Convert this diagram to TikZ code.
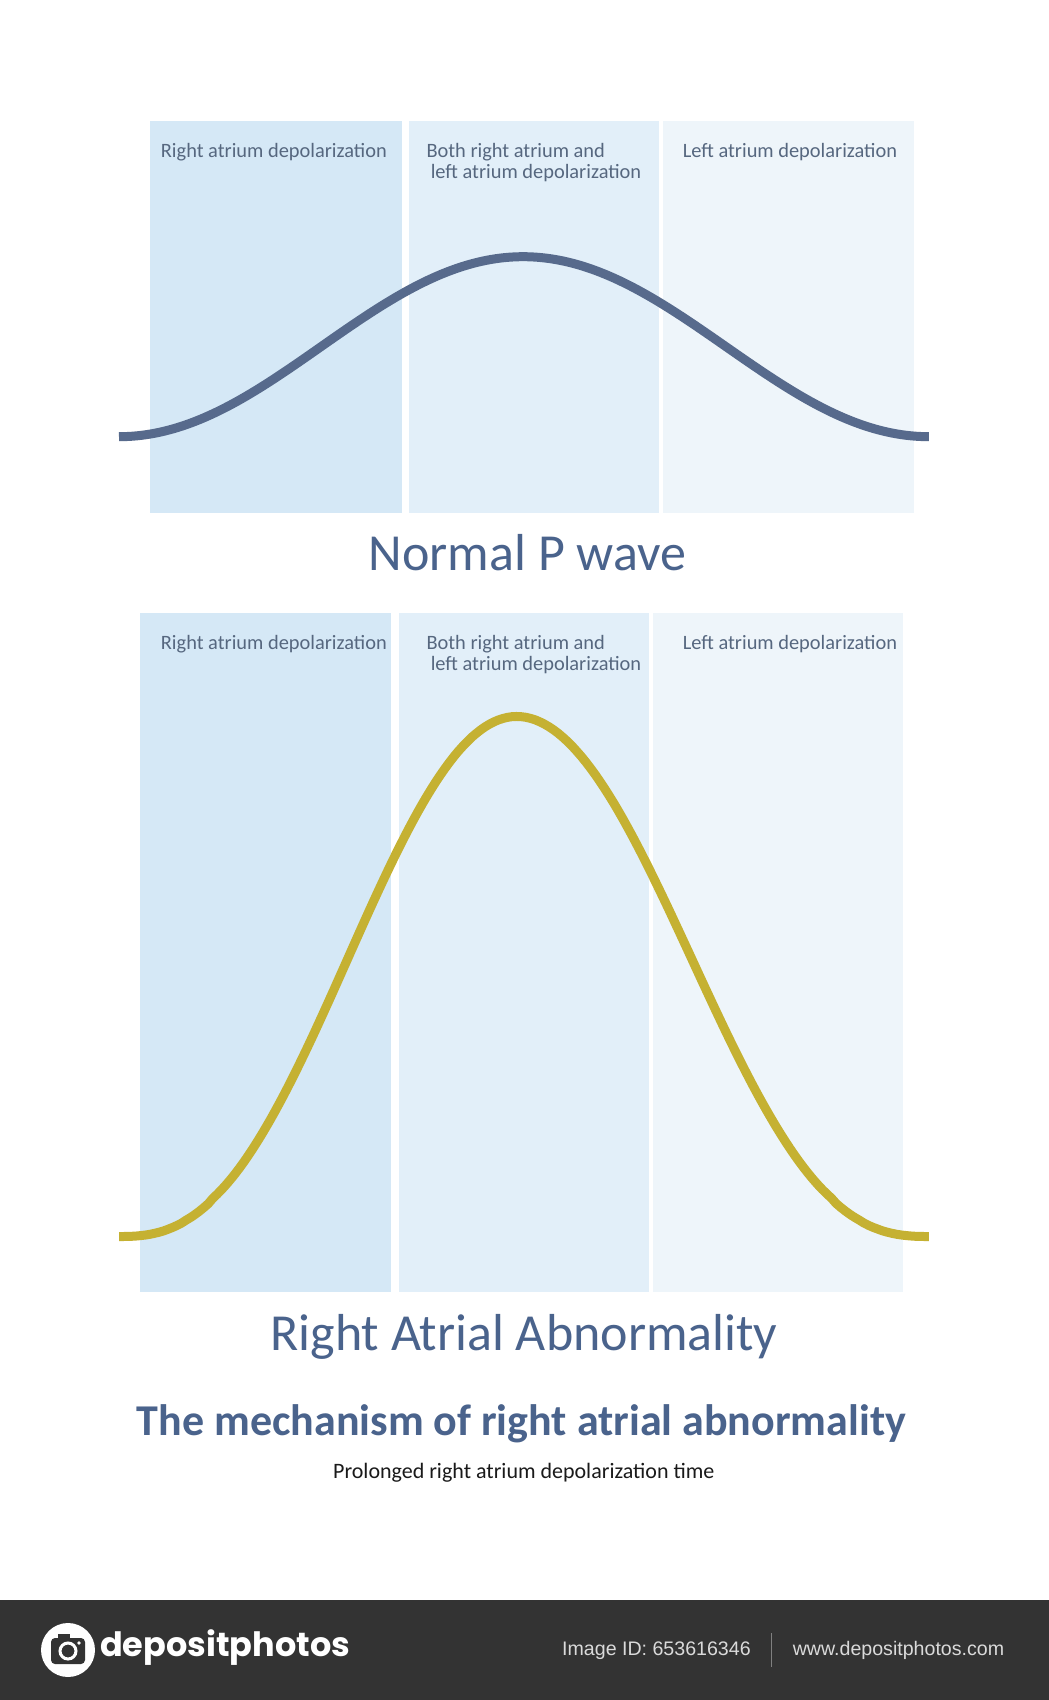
\documentclass[tikz,border=0pt]{standalone}
\usepackage{fontspec}
\setmainfont{Carlito}
\newfontfamily\barfont{Liberation Sans}
\newfontfamily\logofont{Poppins}
\definecolor{rafill}{HTML}{D5E8F6}
\definecolor{bothfill}{HTML}{E2EFF9}
\definecolor{lafill}{HTML}{EEF5FA}
\definecolor{labelgray}{HTML}{56677F}
\definecolor{titleblue}{HTML}{4A638C}
\definecolor{pwave}{HTML}{576A8C}
\definecolor{rawave}{HTML}{C5B132}
\definecolor{notetext}{HTML}{1A1A1A}
\definecolor{barfill}{HTML}{333333}
\definecolor{bartext}{HTML}{DADADA}

\begin{document}
\begin{tikzpicture}[x=1pt,y=-1pt,
  paneltext/.style={anchor=base west, inner sep=0, text=labelgray, font=\fontsize{20.4}{22}\selectfont},
  titletext/.style={anchor=base, inner sep=0, text=titleblue, font=\fontsize{52}{60}\selectfont},
  idtext/.style={anchor=base west, inner sep=0, text=bartext, font=\barfont\fontsize{19.6}{22}\selectfont}]
\useasboundingbox (0,0) rectangle (1049,1700);
\fill[white] (0,0) rectangle (1049,1700);
\foreach \ytop/\ybot/\xa/\xb/\xc/\xd/\xe/\xf/\lab in {
  121/512.7/150.4/402.4/408.9/659.3/662.6/914.1/n,
  613.4/1292/140.2/391.2/398.7/648.5/652.5/903/r}
{
  \fill[rafill] (\xa,\ytop) rectangle (\xb,\ybot);
  \fill[bothfill] (\xc,\ytop) rectangle (\xd,\ybot);
  \fill[lafill] (\xe,\ytop) rectangle (\xf,\ybot);
  \node[paneltext] (ra-\lab) at (160.7,\ytop+36.3) {Right atrium depolarization};
  \node[paneltext] (both-\lab) at (426.3,\ytop+36.3) {Both right atrium and};
  \node[paneltext] (bothb-\lab) at (430.6,\ytop+57.5) {left atrium depolarization};
  \node[paneltext] (la-\lab) at (682.6,\ytop+36.3) {Left atrium depolarization};
}
\foreach \cx/\wl/\wr/\yb/\amp/\pw/\col in {
  523/404/406/436.7/180/1/pwave,
  516.5/397.5/412.5/1236.5/520/1.3/rawave}
{
  \draw[line width=9pt, \col]
    plot[domain=-1:0, samples=90] ({\cx+\wl*\x},{\yb-\amp*((1.0001+cos(180*\x))/2)^\pw})
    -- plot[domain=0:1, samples=90] ({\cx+\wr*\x},{\yb-\amp*((1.0001+cos(180*\x))/2)^\pw});
}
\node[titletext] (normal) at (527.5,570.7) {Normal P wave};
\node[titletext] (rightab) at (524,1350) {Right Atrial Abnormality};
\node[anchor=base, inner sep=0, text=titleblue, font=\fontsize{44}{52}\selectfont\bfseries] (mech) at (521.5,1435) {The mechanism of right atrial abnormality};
\node[anchor=base, inner sep=0, text=notetext, font=\fontsize{22}{26}\selectfont] (prolong) at (523.8,1478) {Prolonged right atrium depolarization time};
\fill[barfill] (0,1600) rectangle (1049,1700);
\node[circle, fill=white, minimum size=54pt, inner sep=0] (logo) at (68,1650) {};
\fill[barfill, rounded corners=4pt] (51,1638) rectangle (85,1664);
\fill[barfill] (58,1634) rectangle (70,1640);
\draw[white, line width=3pt] (68,1651) circle (8);
\fill[white] (79,1643) circle (1.8);
\node[anchor=west, inner sep=0, text=white, font=\logofont\bfseries\fontsize{33.5}{40}\selectfont] (brand) at (100,1648) {depositphotos};
\node[idtext] (imgid) at (562,1655) {Image ID: 653616346};
\node[idtext] (site) at (792.6,1655) {www.depositphotos.com};
\draw[gray, line width=1pt] (771,1633) -- (771,1667);
\end{tikzpicture}
\end{document}
